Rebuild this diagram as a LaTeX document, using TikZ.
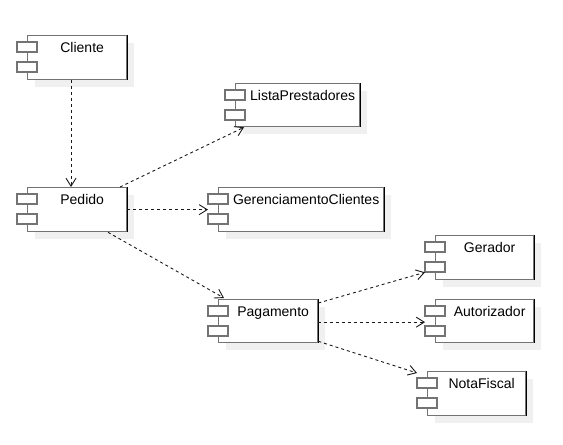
\documentclass[tikz,border=0pt]{standalone}
\usepackage{fontspec}
\setmainfont{Liberation Sans}
\usetikzlibrary{arrows.meta,calc,shadows}
\tikzset{
  compbox/.style={draw=black!55, line width=1.3pt, fill=white, rectangle, inner sep=0pt,
    anchor=north west,
    general shadow={shadow xshift=7pt, shadow yshift=-7pt, fill=black!6, opacity=1}},
  portbox/.style={draw=black!55, line width=1.3pt, fill=white},
  rightedge/.style={draw=black, line width=1pt},
  lbl/.style={anchor=base, inner sep=0pt, font=\fontsize{14}{16}\selectfont},
  dep/.style={draw=black!90, line width=0.9pt, dash pattern=on 3pt off 3pt,
    -{Straight Barb[length=8pt, width=10pt, line width=0.9pt]}},
}
\newcommand\umlcomp[6]{%
  \node[compbox, minimum width=#4pt, minimum height=#5pt] (#1) at (#2,#3) {};
  \draw[rightedge] (#1.north east) -- (#1.south east);
  \draw[portbox] ($(#1.north west)+(-10,7)$) rectangle ++(20,10);
  \draw[portbox] ($(#1.north west)+(-10,27)$) rectangle ++(20,10);
  \node[lbl] (#1-t) at ($(#1.north west)!0.5!(#1.north east)+(5,17)$) {#6};
}
\begin{document}
\begin{tikzpicture}[x=1pt,y=-1pt]
\useasboundingbox (0,0) rectangle (563,445);
\umlcomp{cliente}{27}{35}{99}{44}{Cliente}
\umlcomp{pedido}{27}{187}{99}{44}{Pedido}
\umlcomp{lista}{235}{83}{124}{43}{ListaPrestadores}
\umlcomp{gerenc}{218}{187}{165}{44}{GerenciamentoClientes}
\umlcomp{pagamento}{218}{299}{99}{43}{Pagamento}
\umlcomp{gerador}{435}{235}{98}{44}{Gerador}
\umlcomp{autoriz}{435}{299}{98}{43}{Autorizador}
\umlcomp{nota}{427}{371}{98}{44}{NotaFiscal}

\draw[dep] ($(cliente.south west)+(44,0)$) -- ($(pedido.north west)+(44,0)$);
\draw[dep] ($(pedido.north west)+(93,0)$) -- ($(lista.south west)+(9,0)$);
\draw[dep] (pedido.east) -- ($(gerenc.west)+(-10,0)$);
\draw[dep] ($(pedido.south west)+(81,0)$) -- ($(pagamento.north west)+(6,-1)$);
\draw[dep] ($(pagamento.north east)+(0,4)$) -- ($(gerador.south west)+(-10,-8)$);
\draw[dep] ($(pagamento.east)+(0,1)$) -- ($(autoriz.west)+(-10,1)$);
\draw[dep] ($(pagamento.south east)+(0,-2)$) -- ($(nota.north west)+(-10,2)$);
\end{tikzpicture}
\end{document}
